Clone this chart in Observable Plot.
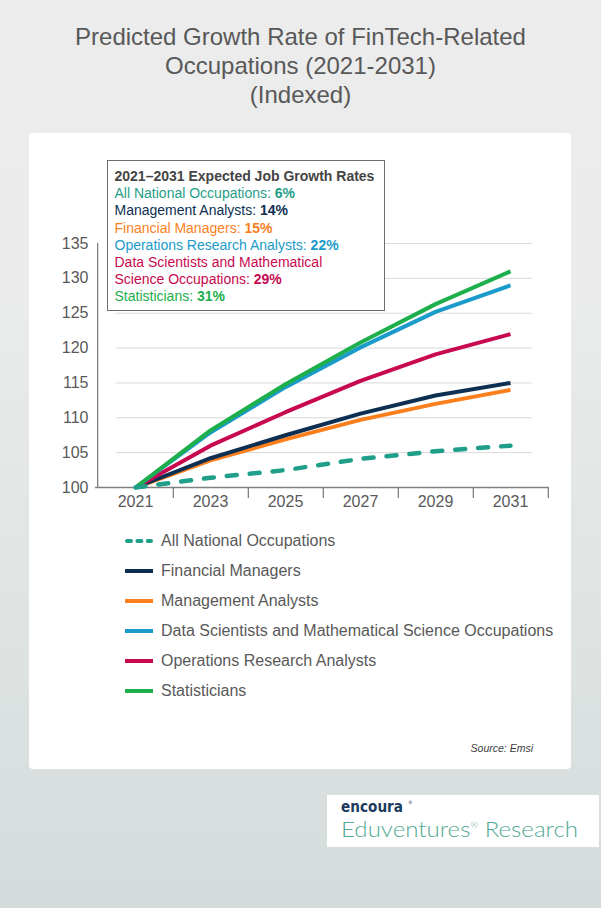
<!DOCTYPE html>
<html>
<head>
<meta charset="utf-8">
<script src="https://cdn.jsdelivr.net/npm/d3@7"></script>
<script src="https://cdn.jsdelivr.net/npm/@observablehq/plot@0.6"></script>
<style>
  html, body { margin: 0; padding: 0; }
  body {
    width: 601px; height: 908px; position: relative; overflow: hidden;
    background: linear-gradient(180deg, #ececec 0%, #eaebeb 35%, #d4dcdb 100%);
    font-family: "Liberation Sans", Arial, sans-serif;
  }
  #title {
    position: absolute; left: 0; top: 22px; width: 601px; text-align: center;
    font-size: 24px; line-height: 29px; color: #585858;
  }
  #card {
    position: absolute; left: 29px; top: 133px; width: 542px; height: 636px;
    background: #fff; border-radius: 4px;
  }
  #chart { position: absolute; left: 0; top: 0; }
  #box {
    position: absolute; left: 78px; top: 27px; width: 269px; height: 142px;
    border: 1.5px solid #6e6e6e; background: #fff;
    padding: 7px 0 0 6.5px; font-size: 14px; line-height: 17.2px;
  }
  #box .head { font-weight: bold; color: #444; }
  #box b { font-weight: bold; }
  #legend { position: absolute; left: 96px; top: 392.5px; }
  #legend .row { height: 30px; line-height: 30px; font-size: 16px; color: #595959; white-space: nowrap; }
  #legend svg { vertical-align: baseline; margin-right: 8px; }
  #source {
    position: absolute; right: 38px; top: 609px; font-size: 10.5px; font-style: italic; color: #404040;
  }
  #logo {
    position: absolute; left: 327px; top: 795px; width: 272px; height: 52px; background: #fff;
  }
</style>
</head>
<body>
<div id="title">Predicted Growth Rate of FinTech-Related<br>Occupations (2021-2031)<br>(Indexed)</div>
<div id="card">
  <div id="chart"></div>
  <div id="box"></div>
  <div id="legend"></div>
  <div id="source">Source: Emsi</div>
</div>
<div id="logo">
  <svg width="272" height="52">
    <text x="14" y="16.7" font-family="DejaVu Sans, sans-serif" font-weight="bold" font-size="15" fill="#1c3a5e" textLength="62" lengthAdjust="spacingAndGlyphs">encoura</text>
    <text x="81" y="9" font-family="DejaVu Sans, sans-serif" font-size="4.5" fill="#1c3a5e">®</text>
    <text x="14" y="41.7" font-family="Lato, sans-serif" font-weight="300" font-size="21" fill="#52a993" textLength="237" lengthAdjust="spacingAndGlyphs">Eduventures<tspan font-size="8" dy="-9">®</tspan><tspan dy="9"> Research</tspan></text>
  </svg>
</div>
<script>
// Years shown on the category axis
const years = ["2021", "2023", "2025", "2027", "2029", "2031"];

// Series names, in legend order
const seriesNames = [
  "All National Occupations",
  "Financial Managers",
  "Management Analysts",
  "Data Scientists and Mathematical Science Occupations",
  "Operations Research Analysts",
  "Statisticians"
];
const seriesColors = ["#1f9e89", "#0d2f51", "#fb7f1d", "#1b9bc9", "#c8094f", "#1daf4b"];

// Indexed employment (2021 = 100)
const allNational         = [100, 101.4, 102.5, 104.1, 105.2, 106];
const financialManagers   = [100, 104.2, 107.5, 110.6, 113.2, 115];
const managementAnalysts  = [100, 103.9, 106.9, 109.7, 112.0, 114];
const dataScientists      = [100, 107.9, 114.4, 120.1, 125.2, 129];
const operationsResearch  = [100, 106.0, 110.8, 115.3, 119.1, 122];
const statisticians       = [100, 108.2, 114.8, 120.8, 126.3, 131];

const yTicks = [100, 105, 110, 115, 120, 125, 130, 135];

// Growth-rate box: each entry's label lines and colour
const boxTitle = "2021\u20132031 Expected Job Growth Rates";
const boxEntries = [
  {series: "All National Occupations", lines: ["All National Occupations"], color: "#1f9e89"},
  {series: "Management Analysts", lines: ["Management Analysts"], color: "#0d2f51"},
  {series: "Financial Managers", lines: ["Financial Managers"], color: "#fb7f1d"},
  {series: "Operations Research Analysts", lines: ["Operations Research Analysts"], color: "#1b9bc9"},
  {series: "Data Scientists and Mathematical Science Occupations", lines: ["Data Scientists and Mathematical", "Science Occupations"], color: "#c8094f"},
  {series: "Statisticians", lines: ["Statisticians"], color: "#1daf4b"}
];

const seriesValues = [allNational, financialManagers, managementAnalysts, dataScientists, operationsResearch, statisticians];
const rows = seriesNames.flatMap((name, i) =>
  years.map((year, j) => ({series: name, year, value: seriesValues[i][j]}))
);
const colorOf = new Map(seriesNames.map((n, i) => [n, seriesColors[i]]));
const growthOf = new Map(seriesNames.map((n, i) => [n, Math.round(seriesValues[i].at(-1) - seriesValues[i][0])]));

// Layout
const W = 542, H = 394, ML = 66, MR = 22, MT = 110, MB = 40;
const step = (W - ML - MR) / years.length; // point scale with padding 0.5

// Drawing order: solid lines, then the dashed national line on top
const solidOrder = ["Management Analysts", "Financial Managers", "Operations Research Analysts",
  "Data Scientists and Mathematical Science Occupations", "Statisticians"];

const chart = Plot.plot({
  width: W, height: H,
  marginLeft: ML, marginRight: MR, marginTop: MT, marginBottom: MB,
  style: {background: "transparent", fontFamily: "Liberation Sans, Arial, sans-serif", fontSize: "16px", color: "#595959"},
  x: {type: "point", domain: years, padding: 0.5, label: null},
  y: {domain: [100, 135], label: null},
  color: {domain: seriesNames, range: seriesColors},
  marks: [
    Plot.ruleY(yTicks.filter(v => v > 100), {stroke: "#d9d9d9", strokeWidth: 1, insetLeft: 20.7, insetRight: 17}),
    Plot.axisY(yTicks, {tickSize: 0, tickPadding: 7, fontSize: 16, fill: "#595959", label: null}),
    Plot.axisX(years, {tickSize: 0, tickPadding: 8, fontSize: 16, fill: "#595959", label: null}),
    Plot.ruleX([years[0]], {x: d => d, dx: -step / 2, y1: 100, y2: 135, stroke: "#808080", strokeWidth: 1.3, strokeOpacity: 1}),
    Plot.ruleY([100], {stroke: "#808080", strokeWidth: 1.5, strokeOpacity: 1}),
    Plot.ruleX(years, {x: d => d, dx: step / 2, y1: 100, y2: 100, insetBottom: -11, stroke: "#808080", strokeWidth: 1.3, strokeOpacity: 1}),
    ...solidOrder.map(name => Plot.line(rows.filter(d => d.series === name), {
      x: "year", y: "value", stroke: "series", strokeWidth: 4, strokeLinejoin: "round", strokeLinecap: "butt"
    })),
    Plot.line(rows.filter(d => d.series === "All National Occupations"), {
      x: "year", y: "value", stroke: "series", strokeWidth: 4.5, strokeDasharray: "10,13", strokeLinecap: "round"
    })
  ]
});
document.getElementById("chart").append(chart);

// Growth-rate box
const box = document.getElementById("box");
const head = document.createElement("div");
head.className = "head";
head.textContent = boxTitle;
box.append(head);
for (const e of boxEntries) {
  e.lines.forEach((line, k) => {
    const div = document.createElement("div");
    div.style.color = e.color;
    if (k < e.lines.length - 1) {
      div.textContent = line;
    } else {
      div.append(line + ": ");
      const b = document.createElement("b");
      b.textContent = growthOf.get(e.series) + "%";
      div.append(b);
    }
    box.append(div);
  });
}

// Legend with line swatches
const legend = document.getElementById("legend");
seriesNames.forEach((name, i) => {
  const row = document.createElement("div");
  row.className = "row";
  const dashed = i === 0;
  row.innerHTML = `<svg width="28" height="10"><line x1="${dashed ? 2 : 0}" x2="${dashed ? 26 : 28}" y1="5" y2="5" stroke="${colorOf.get(name)}" stroke-width="4" ${dashed ? 'stroke-dasharray="4,6.4" stroke-linecap="round"' : ''}/></svg>`;
  row.append(name);
  legend.append(row);
});
</script>
</body>
</html>
